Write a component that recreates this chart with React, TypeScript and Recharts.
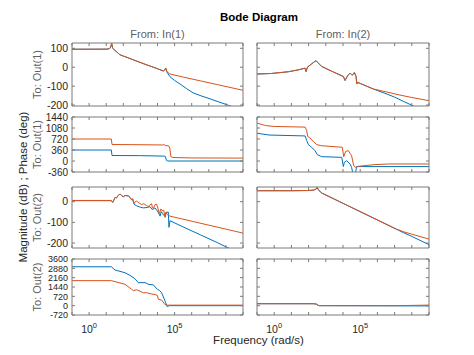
import React from 'react'
import { LineChart, Line, XAxis, YAxis } from 'recharts'

const BLUE = '#0072BD'
const ORANGE = '#D95319'
const INK = '#262626'
const BOX = '#7a7a7a'
const GREY = '#5f5f5f'
const FONT = '"Liberation Sans", Arial, Helvetica, sans-serif'

// frequency axis is log10(rad/s)
const freqTicks = [-1, 0, 1, 2, 3, 4, 5, 6, 7, 8, 9]
const freqLabels = [0, 5]

const magTicks1 = [-200, -100, 0, 100]
const phaseTicks1 = [-360, 0, 360, 720, 1080, 1440]
const magTicks2 = [-200, -100, 0]
const phaseTicks2 = [-720, 0, 720, 1440, 2160, 2880, 3600]

// To: Out(1), From: In(1) - magnitude
const b11mW = [-1, 1.0, 1.15, 1.25, 1.32, 1.38, 1.5, 1.8, 2.5, 3.2, 4.0, 4.34, 4.42, 4.48, 4.55, 4.73, 5.0, 5.32, 5.7, 6.09, 6.6, 7.07, 7.6, 8.14, 8.5]
const b11mV = [95, 95.5, 97, 103, 126, 100, 90, 66, 42, 18, -8, -20, -15, -4, -26, -50, -70, -89, -113, -136, -153, -167, -184, -201, -212]
const o11mW = [-1, 1.0, 1.15, 1.25, 1.32, 1.38, 1.5, 1.8, 2.5, 3.2, 4.0, 4.34, 4.42, 4.48, 4.55, 4.73, 5.5, 6.5, 7.5, 9]
const o11mV = [95, 95.5, 97, 103, 126, 100, 90, 66, 42, 18, -8, -20, -15, -4, -24, -36, -52, -72, -92, -122]

// To: Out(1), From: In(2) - magnitude
const b12mW = [-1, -0.15, 0.82, 1.4, 1.79, 1.85, 1.93, 2.18, 2.43, 2.53, 2.76, 3.34, 4.02, 4.12, 4.27, 4.41, 4.54, 4.66, 4.76, 4.8, 4.85, 5.76, 6.5, 7.0, 7.5, 8.0, 8.5]
const b12mV = [-36, -33, -24, -14, -5, -23, 0, 18, 35, 25, 4, -21, -49, -70, -45, -31, -42, -28, -49, -89, -80, -115, -140, -158, -180, -201, -222]
const o12mW = [-1, -0.15, 0.82, 1.4, 1.79, 1.85, 1.93, 2.18, 2.43, 2.53, 2.76, 3.34, 4.02, 4.12, 4.27, 4.41, 4.54, 4.66, 4.76, 4.8, 4.85, 5.76, 6.5, 7.2, 8.0, 9]
const o12mV = [-36, -33, -24, -14, -5, -23, 0, 18, 35, 25, 4, -21, -49, -70, -45, -31, -42, -28, -49, -89, -80, -115, -130, -145, -160, -177]

// To: Out(1), From: In(1) - phase
const b11pW = [-1, 1.3, 1.34, 3, 4.4, 4.46, 4.52, 4.6, 9]
const b11pV = [360, 360, 180, 175, 160, 150, 20, 0, 0]
const o11pW = [-1, 1.3, 1.34, 2.5, 4.3, 4.38, 4.42, 4.48, 4.65, 4.72, 4.78, 4.9, 6, 9]
const o11pV = [720, 720, 540, 535, 525, 540, 520, 505, 495, 420, 150, 115, 100, 95]

// To: Out(1), From: In(2) - phase
const b12pW = [-1, -0.3, 1.8, 1.89, 1.99, 2.18, 2.37, 2.51, 2.76, 3.93, 4.02, 4.08, 4.21, 4.41, 4.5, 4.6, 4.7, 4.79, 9]
const b12pV = [910, 850, 820, 665, 534, 447, 338, 207, 142, 120, -183, -43, 10, -98, -207, -480, -480, -183, -183]
const o12pW = [-1, -0.5, 0, 1.8, 1.89, 1.95, 2.08, 2.27, 2.47, 2.76, 3.96, 4.04, 4.16, 4.31, 4.41, 4.5, 4.62, 4.74, 4.89, 5.8, 6.64, 9]
const o12pV = [1240, 1160, 1130, 1110, 990, 800, 750, 645, 535, 500, 450, 142, 317, 338, 251, 175, -154, -207, -174, -120, -98, -98]

// To: Out(2), From: In(1) - magnitude
const b21mW = [-1, 1.3, 1.38, 1.45, 1.52, 1.6, 1.7, 1.81, 1.9, 2.0, 2.1, 2.3, 2.4, 2.49, 2.55, 2.63, 2.78, 3.0, 3.17, 3.4, 3.56, 3.7, 3.85, 4.0, 4.15, 4.22, 4.3, 4.44, 4.5, 4.63, 4.67, 4.73, 5.5, 6.5, 7.5, 8.14, 9]
const b21mV = [5, 5, -3, 8, 21, 18, 30, 37, 30, 24, 30, 28, 20, 8, 10, -12, -20, -27, -30, -28, -24, -38, -30, -45, -70, -48, -58, -72, -52, -50, -124, -92, -122, -160, -198, -224, -257]
const o21mW = [-1, 1.3, 1.38, 1.45, 1.52, 1.6, 1.7, 1.81, 1.9, 2.0, 2.1, 2.3, 2.4, 2.49, 2.55, 2.63, 2.7, 2.78, 2.9, 3.07, 3.2, 3.35, 3.46, 3.56, 3.66, 3.7, 3.76, 3.85, 3.95, 4.05, 4.11, 4.2, 4.3, 4.36, 4.44, 4.5, 4.54, 4.6, 4.73, 9]
const o21mV = [6, 6, -3, 8, 21, 18, 30, 37, 30, 24, 30, 28, 20, 9, 15, -8, 0, 3, -5, -14, -10, -18, -24, -15, -10, -30, -33, -15, -12, -40, -57, -35, -45, -40, -76, -50, -60, -64, -70, -152]

// To: Out(2), From: In(2) - magnitude
const b22mW = [-1, 1.0, 2.0, 2.3, 2.45, 2.5, 2.56, 2.76, 7.12, 7.5, 8, 9]
const b22mV = [53, 53, 54, 56, 62, 70, 58, 42, -134, -149, -168, -208]
const o22mW = [-1, 1.0, 2.0, 2.3, 2.45, 2.5, 2.56, 2.76, 7.12, 7.5, 8, 9]
const o22mV = [53, 53, 54, 56, 62, 70, 58, 42, -133, -145, -157, -181]

// To: Out(2), From: In(1) - phase
const b21pW = [-1, 1.3, 1.52, 2.1, 2.39, 2.68, 2.88, 3.27, 3.46, 3.76, 3.99, 4.11, 4.24, 4.44, 4.57, 4.69, 9]
const b21pV = [3000, 3000, 2750, 2540, 2340, 2080, 1770, 1780, 1650, 1600, 1260, 1180, 1000, 360, -80, 0, 0]
const o21pW = [-1, 1.3, 2.1, 2.49, 2.59, 2.78, 3.17, 3.36, 3.66, 3.86, 3.99, 4.05, 4.24, 4.44, 4.6, 9]
const o21pV = [1930, 1930, 1650, 1260, 1160, 1230, 1000, 1000, 900, 850, 800, 490, 430, 80, 40, 40]

// To: Out(2), From: In(2) - phase
const b22pW = [-1, 2.3, 2.45, 2.55, 2.62, 9]
const b22pV = [150, 150, 120, 30, 0, -20]
const o22pW = [-1, 2.3, 2.45, 2.55, 2.62, 7, 8, 9]
const o22pV = [150, 150, 120, 30, 0, 0, 20, 45]

type Pt = { w: number; v: number }
const pts = (w: number[], v: number[]): Pt[] => w.map((x, i) => ({ w: x, v: v[i] }))

const PAD_L = 45
const PAD_R = 5
const PAD_T = 5
const PAD_B = 25

interface PanelProps {
  x: number
  y: number
  w: number
  h: number
  domain: [number, number]
  yTicks: number[]
  tickFont: number
  yLabels: boolean
  xLabels: boolean
  blue: Pt[]
  orange: Pt[]
}

function Panel({ x, y, w, h, domain, yTicks, tickFont, yLabels, xLabels, blue, orange }: PanelProps) {
  return (
    <div style={{ position: 'absolute', left: x - PAD_L, top: y - PAD_T }}>
      <LineChart width={w + PAD_L + PAD_R} height={h + PAD_T + PAD_B} margin={{ top: 0, right: 0, bottom: 0, left: 0 }}>
        <XAxis
          xAxisId="b"
          dataKey="w"
          type="number"
          domain={[-1, 9]}
          ticks={freqTicks}
          interval={0}
          allowDataOverflow
          height={PAD_B}
          tickSize={0}
          tickMargin={0}
          stroke={BOX}
          tick={(p: any) => (
            <g>
              <line x1={p.x} x2={p.x} y1={p.y} y2={p.y - 3} stroke={BOX} />
              {xLabels && freqLabels.includes(p.payload.value) && (
                <text x={p.x} y={p.y + 18} textAnchor="middle" fontSize={10.5} fill={INK} fontFamily={FONT}>
                  10<tspan dy={-5} fontSize={7.5}>{p.payload.value}</tspan>
                </text>
              )}
            </g>
          )}
        />
        <XAxis
          xAxisId="t"
          orientation="top"
          dataKey="w"
          type="number"
          domain={[-1, 9]}
          ticks={freqTicks}
          interval={0}
          allowDataOverflow
          height={PAD_T}
          tickSize={0}
          tickMargin={0}
          stroke={BOX}
          tick={(p: any) => <line x1={p.x} x2={p.x} y1={p.y} y2={p.y + 3} stroke={BOX} />}
        />
        <YAxis
          yAxisId="l"
          type="number"
          domain={domain}
          ticks={yTicks}
          interval={0}
          allowDataOverflow
          width={PAD_L}
          tickSize={0}
          tickMargin={0}
          stroke={BOX}
          tick={(p: any) => (
            <g>
              <line x1={p.x} x2={p.x + 3} y1={p.y} y2={p.y} stroke={BOX} />
              {yLabels && (
                <text x={p.x - 4} y={p.y + tickFont * 0.36} textAnchor="end" fontSize={tickFont} fill={INK} fontFamily={FONT}>
                  {p.payload.value}
                </text>
              )}
            </g>
          )}
        />
        <YAxis
          yAxisId="r"
          orientation="right"
          type="number"
          domain={domain}
          ticks={yTicks}
          interval={0}
          allowDataOverflow
          width={PAD_R}
          tickSize={0}
          tickMargin={0}
          stroke={BOX}
          tick={(p: any) => <line x1={p.x} x2={p.x - 3} y1={p.y} y2={p.y} stroke={BOX} />}
        />
        <Line xAxisId="b" yAxisId="l" data={blue} dataKey="v" type="linear" stroke={BLUE} strokeWidth={1} dot={false} activeDot={false} isAnimationActive={false} />
        <Line xAxisId="b" yAxisId="l" data={orange} dataKey="v" type="linear" stroke={ORANGE} strokeWidth={1} dot={false} activeDot={false} isAnimationActive={false} />
      </LineChart>
    </div>
  )
}

const COLS = [
  { x: 72, w: 171 },
  { x: 257, w: 172 },
]
const ROWS = [
  { y: 43, h: 63, domain: [-205, 128] as [number, number], ticks: magTicks1, font: 10.5 },
  { y: 117, h: 55, domain: [-360, 1440] as [number, number], ticks: phaseTicks1, font: 10 },
  { y: 187, h: 61, domain: [-224, 71] as [number, number], ticks: magTicks2, font: 10.5 },
  { y: 259, h: 56, domain: [-720, 3600] as [number, number], ticks: phaseTicks2, font: 9 },
]

const series: [Pt[], Pt[]][][] = [
  [[pts(b11mW, b11mV), pts(o11mW, o11mV)], [pts(b12mW, b12mV), pts(o12mW, o12mV)]],
  [[pts(b11pW, b11pV), pts(o11pW, o11pV)], [pts(b12pW, b12pV), pts(o12pW, o12pV)]],
  [[pts(b21mW, b21mV), pts(o21mW, o21mV)], [pts(b22mW, b22mV), pts(o22mW, o22mV)]],
  [[pts(b21pW, b21pV), pts(o21pW, o21pV)], [pts(b22pW, b22pV), pts(o22pW, o22pV)]],
]

const rowLabels = ['To: Out(1)', 'To: Out(1)', 'To: Out(2)', 'To: Out(2)']

export default function App() {
  return (
    <div style={{ position: 'absolute', left: 0, top: 0, width: 474, height: 355, background: '#fff', overflow: 'hidden' }}>
      <svg width={474} height={355} style={{ position: 'absolute', left: 0, top: 0 }}>
        <text x={259} y={21} textAnchor="middle" fontSize={11.5} fontWeight="bold" fill="#000" fontFamily={FONT}>
          Bode Diagram
        </text>
        <text x={157.5} y={38} textAnchor="middle" fontSize={11} fill={GREY} fontFamily={FONT}>
          From: In(1)
        </text>
        <text x={343} y={38} textAnchor="middle" fontSize={11} fill={GREY} fontFamily={FONT}>
          From: In(2)
        </text>
        <text transform="translate(27,187) rotate(-90)" textAnchor="middle" fontSize={11.5} fill={INK} fontFamily={FONT}>
          Magnitude (dB) ; Phase (deg)
        </text>
        {ROWS.map((r, i) => (
          <text key={i} transform={`translate(41,${r.y + r.h / 2}) rotate(-90)`} textAnchor="middle" fontSize={11} fill={GREY} fontFamily={FONT}>
            {rowLabels[i]}
          </text>
        ))}
        <text x={258.5} y={344} textAnchor="middle" fontSize={11.5} fill={INK} fontFamily={FONT}>
          Frequency  (rad/s)
        </text>
      </svg>
      {ROWS.map((r, ri) =>
        COLS.map((c, ci) => (
          <Panel
            key={`${ri}-${ci}`}
            x={c.x}
            y={r.y}
            w={c.w}
            h={r.h}
            domain={r.domain}
            yTicks={r.ticks}
            tickFont={r.font}
            yLabels={ci === 0}
            xLabels={ri === 3}
            blue={series[ri][ci][0]}
            orange={series[ri][ci][1]}
          />
        ))
      )}
    </div>
  )
}
